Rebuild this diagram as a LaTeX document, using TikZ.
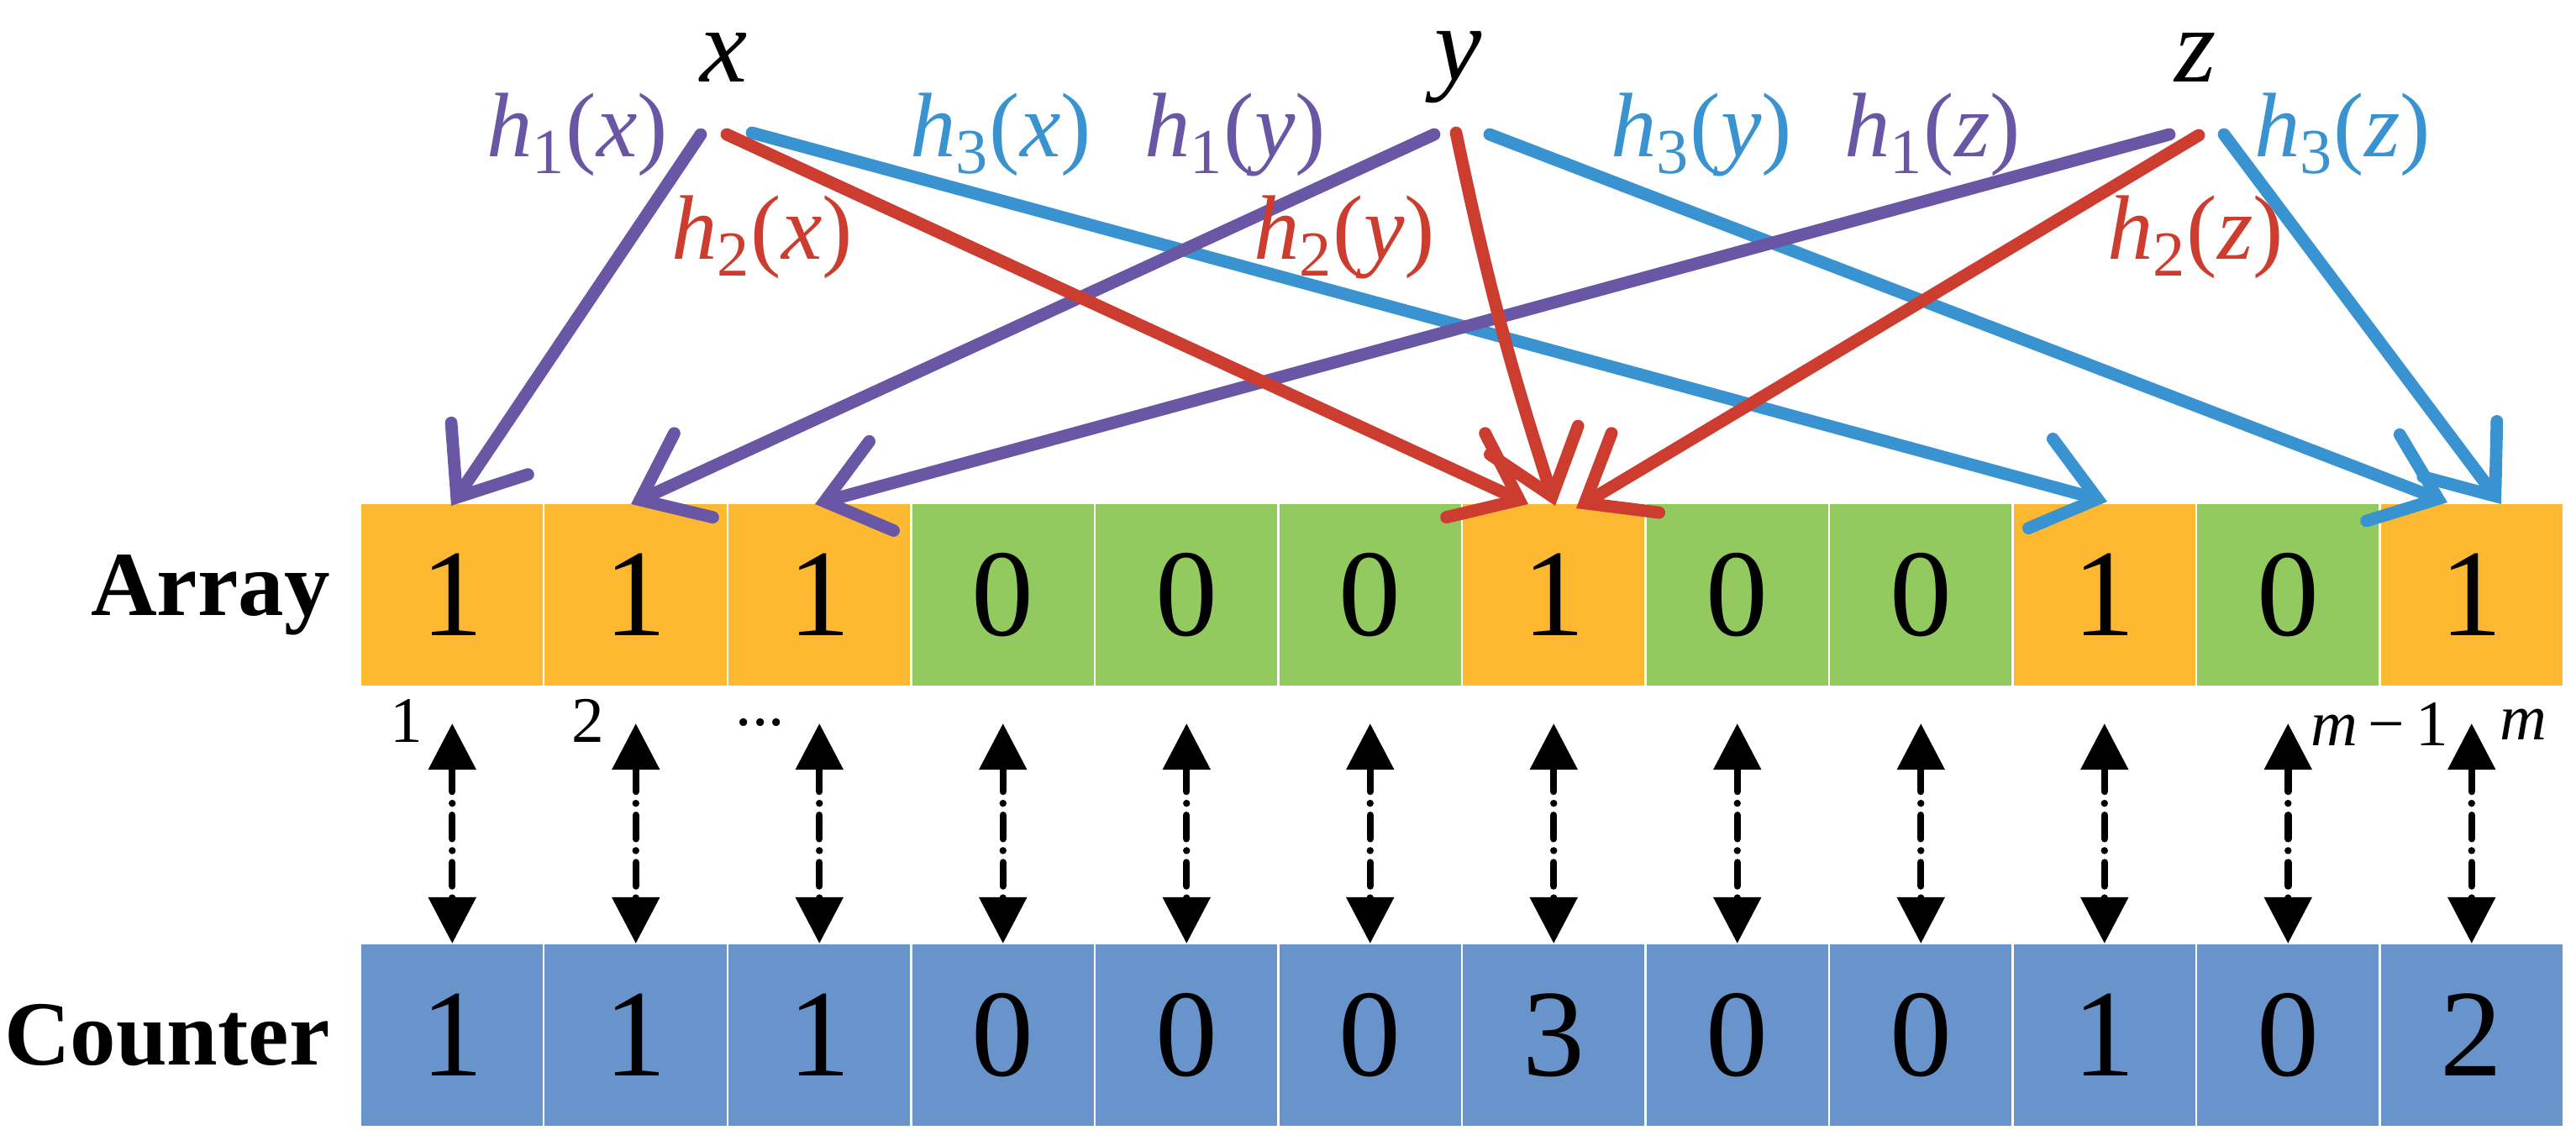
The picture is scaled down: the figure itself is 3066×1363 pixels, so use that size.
\documentclass[tikz,border=0pt]{standalone}
\usepackage{fontspec}
\setmainfont{Liberation Serif}
\usetikzlibrary{arrows.meta}
\definecolor{cOrange}{HTML}{FCB831}
\definecolor{cGreen}{HTML}{92CA60}
\definecolor{cBlue}{HTML}{6994CB}
\definecolor{cPurple}{HTML}{6956A5}
\definecolor{cRed}{HTML}{CC3D30}
\definecolor{cSky}{HTML}{3893D0}
\newcommand{\hx}[2]{\textit{h}\textsubscript{#1}(\textit{#2})}
\begin{document}
\begin{tikzpicture}
          [x=0.01cm,y=-0.01cm,
           cell/.style={draw=white, line width=0.6pt, minimum width=2.185cm, minimum height=2.18cm, inner sep=0pt, font=\fontsize{42}{42}\selectfont},
           hash/.style={line width=4.2pt, line cap=round, -{Straight Barb[length=0.7cm,width=1.1cm,line cap=round]}},
           link/.style={line width=2.4pt, dash pattern=on 8pt off 4pt on 0pt off 4pt, line cap=round, {Triangle[length=0.55cm,width=0.55cm]}-{Triangle[length=0.55cm,width=0.55cm]}},
           lbl/.style={inner sep=1pt, font=\fontsize{31}{31}\selectfont}]
        \useasboundingbox (0,0) rectangle (3066,1363);

        % array and counter rows
        \foreach \i/\a/\c in {1/1/1, 2/1/1, 3/1/1, 4/0/0, 5/0/0, 6/0/0, 7/1/3, 8/0/0, 9/0/0, 10/1/1, 11/0/0, 12/1/2}
          {
            \ifnum\a=1 \def\fc{cOrange}\else \def\fc{cGreen}\fi
            \node[cell, fill=\fc] (a\i) at ({538.25+218.5*(\i-1)},708) {\a};
            \node[cell, fill=cBlue] (c\i) at ({538.25+218.5*(\i-1)},1232) {\c};
            \draw[link] ({538.25+218.5*(\i-1)},861) coordinate (u\i) -- ({538.25+218.5*(\i-1)},1123) coordinate (d\i);
          }

        \node[anchor=east, font=\fontsize{31}{31}\selectfont\bfseries] (arr) at (405,708) {Array};
        \node[anchor=east, font=\fontsize{31}{31}\selectfont\bfseries] (cnt) at (405,1232) {Counter};

        \node[font=\fontsize{22}{22}\selectfont] (i1) at (484,858) {1};
        \node[font=\fontsize{22}{22}\selectfont] (i2) at (700,858) {2};
        \node[font=\fontsize{22}{22}\selectfont] (i3) at (905,860) {...};
        \node[font=\fontsize{22}{22}\selectfont] (i11) at (2832,862) {\textit{m}\,−\,1};
        \node[font=\fontsize{22}{22}\selectfont] (i12) at (3003,862) {\textit{m}};

        % elements
        \node[inner sep=0pt, font=\fontsize{36}{36}\selectfont\itshape] (x) at (862,68) {x};
        \node[inner sep=0pt, font=\fontsize{36}{36}\selectfont\itshape] (y) at (1736,80) {y};
        \node[inner sep=0pt, font=\fontsize{36}{36}\selectfont\itshape] (z) at (2613,68) {z};

        \coordinate (x1) at (834,160); \coordinate (x2) at (865,160); \coordinate (x3) at (895,158);
        \coordinate (y1) at (1707,160); \coordinate (y2) at (1733,158); \coordinate (y3) at (1773,160);
        \coordinate (z1) at (2582,160); \coordinate (z2) at (2617,161); \coordinate (z3) at (2647,160);

        \coordinate (tx1) at (537,602); \coordinate (tx2) at (1819,600); \coordinate (tx3) at (2508,597);
        \coordinate (ty1) at (751,600); \coordinate (ty2) at (1851,602); \coordinate (ty3) at (2913,598);
        \coordinate (tz1) at (970,600); \coordinate (tz2) at (1876,605); \coordinate (tz3) at (2977,600);

        \foreach \s in {x,y,z}
          {
            \draw[hash, cPurple] (\s1) -- (t\s1);
            \draw[hash, cSky] (\s3) -- (t\s3);
          }
        \draw[hash, cRed] (x2) -- (tx2);
        \draw[hash, cRed] (y2) to[bend right=3] (ty2);
        \draw[hash, cRed] (z2) -- (tz2);

        \node[lbl, text=cPurple] (lx1) at (687,160) {\hx{1}{x}};
        \node[lbl, text=cRed] (lx2) at (907,282) {\hx{2}{x}};
        \node[lbl, text=cSky] (lx3) at (1191,160) {\hx{3}{x}};
        \node[lbl, text=cPurple] (ly1) at (1470,160) {\hx{1}{y}};
        \node[lbl, text=cRed] (ly2) at (1600,282) {\hx{2}{y}};
        \node[lbl, text=cSky] (ly3) at (2025,160) {\hx{3}{y}};
        \node[lbl, text=cPurple] (lz1) at (2300,160) {\hx{1}{z}};
        \node[lbl, text=cRed] (lz2) at (2613,282) {\hx{2}{z}};
        \node[lbl, text=cSky] (lz3) at (2788,160) {\hx{3}{z}};
      \end{tikzpicture}
\end{document}
